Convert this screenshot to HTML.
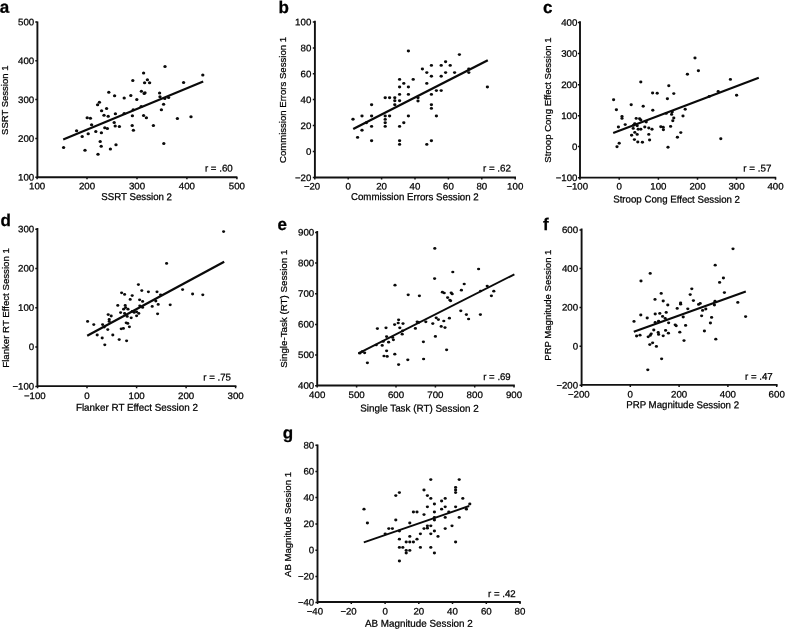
<!DOCTYPE html>
<html lang="en">
<head>
<meta charset="utf-8">
<title>Test-retest reliability scatter plots</title>
<style>
html,body{margin:0;padding:0;background:#fff;}
body{width:785px;height:629px;overflow:hidden;}
svg{display:block;}
text{font-family:"Liberation Sans",Arial,Helvetica,sans-serif;fill:#000;stroke:#000;stroke-width:0.25px;}
.tk{font-size:9.4px;}
.tt{font-size:9.9px;}
.rr{font-size:9.7px;}
.lt{font-size:17.0px;font-weight:bold;fill:#000;}
.ax{stroke:#111;stroke-width:1.9;fill:none;stroke-linecap:butt;}
.rl{stroke:#0a0a0a;fill:none;stroke-linecap:butt;}
.d ellipse{fill:#0a0a0a;}
</style>
</head>
<body>
<svg width="785" height="629" viewBox="0 0 785 629">
<g id="panel-a">
<text class="lt" x="-0.3" y="12.8" transform="rotate(0.03 -0.3 12.8)">a</text>
<path class="ax" d="M37.4 21.4V177.2H237.4"/>
<path class="ax" style="stroke-width:1.5" d="M37.1 177.2v2.1M87 177.2v2.1M137 177.2v2.1M186.9 177.2v2.1M236.9 177.2v2.1M37.4 177.2h-2.1M37.4 138.4h-2.1M37.4 99.6h-2.1M37.4 60.8h-2.1M37.4 22h-2.1"/>
<text class="tk" x="29" y="189.2" textLength="16.2" lengthAdjust="spacingAndGlyphs" transform="rotate(0.03 29 189.2)">100</text>
<text class="tk" x="78.9" y="189.2" textLength="16.2" lengthAdjust="spacingAndGlyphs" transform="rotate(0.03 78.9 189.2)">200</text>
<text class="tk" x="128.9" y="189.2" textLength="16.2" lengthAdjust="spacingAndGlyphs" transform="rotate(0.03 128.9 189.2)">300</text>
<text class="tk" x="178.8" y="189.2" textLength="16.2" lengthAdjust="spacingAndGlyphs" transform="rotate(0.03 178.8 189.2)">400</text>
<text class="tk" x="228.8" y="189.2" textLength="16.2" lengthAdjust="spacingAndGlyphs" transform="rotate(0.03 228.8 189.2)">500</text>
<text class="tk" x="18" y="180.5" textLength="16.2" lengthAdjust="spacingAndGlyphs" transform="rotate(0.03 18 180.5)">100</text>
<text class="tk" x="18" y="141.7" textLength="16.2" lengthAdjust="spacingAndGlyphs" transform="rotate(0.03 18 141.7)">200</text>
<text class="tk" x="18" y="102.9" textLength="16.2" lengthAdjust="spacingAndGlyphs" transform="rotate(0.03 18 102.9)">300</text>
<text class="tk" x="18" y="64.1" textLength="16.2" lengthAdjust="spacingAndGlyphs" transform="rotate(0.03 18 64.1)">400</text>
<text class="tk" x="18" y="25.3" textLength="16.2" lengthAdjust="spacingAndGlyphs" transform="rotate(0.03 18 25.3)">500</text>
<text class="tt" x="101.28" y="200.10" textLength="70.72" lengthAdjust="spacingAndGlyphs" transform="rotate(0.03 101.28 200.10)">SSRT Session 2</text>
<text class="tt" transform="translate(8.05 134.90) rotate(-90)" textLength="69.34" lengthAdjust="spacingAndGlyphs">SSRT Session 1</text>
<text class="rr" x="204.92" y="171.40" textLength="27.80" lengthAdjust="spacingAndGlyphs" transform="rotate(0.03 204.92 171.40)">r = .60</text>
<g class="d"><ellipse cx="63.6" cy="147.4" rx="1.65" ry="1.5"/><ellipse cx="85" cy="150.2" rx="1.65" ry="1.5"/><ellipse cx="98" cy="154.2" rx="1.65" ry="1.5"/><ellipse cx="110.4" cy="149" rx="1.65" ry="1.5"/><ellipse cx="116" cy="144.8" rx="1.65" ry="1.5"/><ellipse cx="101.2" cy="146.2" rx="1.65" ry="1.5"/><ellipse cx="100.2" cy="141.6" rx="1.65" ry="1.5"/><ellipse cx="82.2" cy="136.4" rx="1.65" ry="1.5"/><ellipse cx="88.2" cy="133.8" rx="1.65" ry="1.5"/><ellipse cx="76.6" cy="130.8" rx="1.65" ry="1.5"/><ellipse cx="95.8" cy="131.4" rx="1.65" ry="1.5"/><ellipse cx="101.4" cy="132.8" rx="1.65" ry="1.5"/><ellipse cx="91.6" cy="124.8" rx="1.65" ry="1.5"/><ellipse cx="104.8" cy="127.8" rx="1.65" ry="1.5"/><ellipse cx="107.4" cy="128.4" rx="1.65" ry="1.5"/><ellipse cx="87.2" cy="117.8" rx="1.65" ry="1.5"/><ellipse cx="90.4" cy="118.2" rx="1.65" ry="1.5"/><ellipse cx="104" cy="115.2" rx="1.65" ry="1.5"/><ellipse cx="108.2" cy="116.2" rx="1.65" ry="1.5"/><ellipse cx="101.6" cy="110.8" rx="1.65" ry="1.5"/><ellipse cx="106.6" cy="108.6" rx="1.65" ry="1.5"/><ellipse cx="97.6" cy="104.8" rx="1.65" ry="1.5"/><ellipse cx="99.4" cy="102.2" rx="1.65" ry="1.5"/><ellipse cx="108.8" cy="92.2" rx="1.65" ry="1.5"/><ellipse cx="114.6" cy="95.8" rx="1.65" ry="1.5"/><ellipse cx="124.2" cy="98" rx="1.65" ry="1.5"/><ellipse cx="130.8" cy="95.4" rx="1.65" ry="1.5"/><ellipse cx="136.8" cy="99.6" rx="1.65" ry="1.5"/><ellipse cx="132.8" cy="80.6" rx="1.65" ry="1.5"/><ellipse cx="143.6" cy="73" rx="1.65" ry="1.5"/><ellipse cx="147.4" cy="79.8" rx="1.65" ry="1.5"/><ellipse cx="144.6" cy="82.8" rx="1.65" ry="1.5"/><ellipse cx="149.6" cy="82.8" rx="1.65" ry="1.5"/><ellipse cx="141.4" cy="91.2" rx="1.65" ry="1.5"/><ellipse cx="144.2" cy="93.4" rx="1.65" ry="1.5"/><ellipse cx="145" cy="92.8" rx="1.65" ry="1.5"/><ellipse cx="165" cy="66.6" rx="1.65" ry="1.5"/><ellipse cx="202.8" cy="75" rx="1.65" ry="1.5"/><ellipse cx="183.6" cy="82.6" rx="1.65" ry="1.5"/><ellipse cx="159.6" cy="93" rx="1.65" ry="1.5"/><ellipse cx="160" cy="96.8" rx="1.65" ry="1.5"/><ellipse cx="164.8" cy="98.6" rx="1.65" ry="1.5"/><ellipse cx="168.6" cy="97.6" rx="1.65" ry="1.5"/><ellipse cx="163.6" cy="104.2" rx="1.65" ry="1.5"/><ellipse cx="161.4" cy="109.8" rx="1.65" ry="1.5"/><ellipse cx="141.2" cy="106.6" rx="1.65" ry="1.5"/><ellipse cx="133.2" cy="109.8" rx="1.65" ry="1.5"/><ellipse cx="124.2" cy="113.4" rx="1.65" ry="1.5"/><ellipse cx="115.4" cy="113.8" rx="1.65" ry="1.5"/><ellipse cx="132.4" cy="115.8" rx="1.65" ry="1.5"/><ellipse cx="143.6" cy="115.4" rx="1.65" ry="1.5"/><ellipse cx="146.4" cy="117.8" rx="1.65" ry="1.5"/><ellipse cx="114.2" cy="122.6" rx="1.65" ry="1.5"/><ellipse cx="115.2" cy="126" rx="1.65" ry="1.5"/><ellipse cx="119.4" cy="126.6" rx="1.65" ry="1.5"/><ellipse cx="132.2" cy="125.4" rx="1.65" ry="1.5"/><ellipse cx="133.4" cy="130.2" rx="1.65" ry="1.5"/><ellipse cx="153.4" cy="125.6" rx="1.65" ry="1.5"/><ellipse cx="177.4" cy="118.4" rx="1.65" ry="1.5"/><ellipse cx="191" cy="116.8" rx="1.65" ry="1.5"/><ellipse cx="163.8" cy="143.6" rx="1.65" ry="1.5"/></g>
<line class="rl" stroke-width="2.15" x1="63.2" y1="139.6" x2="203.2" y2="81.4"/>
</g>
<g id="panel-b">
<text class="lt" x="278.6" y="13" transform="rotate(0.03 278.6 13)">b</text>
<path class="ax" d="M314.9 20.8V177.5H516"/>
<path class="ax" style="stroke-width:1.5" d="M314.8 177.5v2.1M348.2 177.5v2.1M381.6 177.5v2.1M415 177.5v2.1M448.4 177.5v2.1M481.8 177.5v2.1M515.2 177.5v2.1M314.9 177.6h-2.1M314.9 151.4h-2.1M314.9 125.5h-2.1M314.9 99.6h-2.1M314.9 73.8h-2.1M314.9 47.9h-2.1M314.9 21.9h-2.1"/>
<text class="tk" x="303.9" y="189.4" textLength="16.3" lengthAdjust="spacingAndGlyphs" transform="rotate(0.03 303.9 189.4)">−20</text>
<text class="tk" x="345.5" y="189.4" textLength="5.4" lengthAdjust="spacingAndGlyphs" transform="rotate(0.03 345.5 189.4)">0</text>
<text class="tk" x="376.2" y="189.4" textLength="10.8" lengthAdjust="spacingAndGlyphs" transform="rotate(0.03 376.2 189.4)">20</text>
<text class="tk" x="409.6" y="189.4" textLength="10.8" lengthAdjust="spacingAndGlyphs" transform="rotate(0.03 409.6 189.4)">40</text>
<text class="tk" x="443" y="189.4" textLength="10.8" lengthAdjust="spacingAndGlyphs" transform="rotate(0.03 443 189.4)">60</text>
<text class="tk" x="476.4" y="189.4" textLength="10.8" lengthAdjust="spacingAndGlyphs" transform="rotate(0.03 476.4 189.4)">80</text>
<text class="tk" x="507.1" y="189.4" textLength="16.2" lengthAdjust="spacingAndGlyphs" transform="rotate(0.03 507.1 189.4)">100</text>
<text class="tk" x="295" y="181" textLength="16.3" lengthAdjust="spacingAndGlyphs" transform="rotate(0.03 295 181)">−20</text>
<text class="tk" x="305.9" y="154.8" textLength="5.4" lengthAdjust="spacingAndGlyphs" transform="rotate(0.03 305.9 154.8)">0</text>
<text class="tk" x="300.5" y="128.9" textLength="10.8" lengthAdjust="spacingAndGlyphs" transform="rotate(0.03 300.5 128.9)">20</text>
<text class="tk" x="300.5" y="103" textLength="10.8" lengthAdjust="spacingAndGlyphs" transform="rotate(0.03 300.5 103)">40</text>
<text class="tk" x="300.5" y="77.2" textLength="10.8" lengthAdjust="spacingAndGlyphs" transform="rotate(0.03 300.5 77.2)">60</text>
<text class="tk" x="300.5" y="51.3" textLength="10.8" lengthAdjust="spacingAndGlyphs" transform="rotate(0.03 300.5 51.3)">80</text>
<text class="tk" x="295.1" y="25.3" textLength="16.2" lengthAdjust="spacingAndGlyphs" transform="rotate(0.03 295.1 25.3)">100</text>
<text class="tt" x="350.92" y="200.10" textLength="127.80" lengthAdjust="spacingAndGlyphs" transform="rotate(0.03 350.92 200.10)">Commission Errors Session 2</text>
<text class="tt" transform="translate(286.20 163.00) rotate(-90)" textLength="126.00" lengthAdjust="spacingAndGlyphs">Commission Errors Session 1</text>
<text class="rr" x="482.92" y="171.60" textLength="28.08" lengthAdjust="spacingAndGlyphs" transform="rotate(0.03 482.92 171.60)">r = .62</text>
<g class="d"><ellipse cx="353" cy="119.2" rx="1.65" ry="1.45"/><ellipse cx="362" cy="116" rx="1.65" ry="1.45"/><ellipse cx="357.6" cy="137.4" rx="1.65" ry="1.45"/><ellipse cx="362" cy="130.2" rx="1.65" ry="1.45"/><ellipse cx="366.4" cy="122.8" rx="1.65" ry="1.45"/><ellipse cx="371.6" cy="104.8" rx="1.65" ry="1.45"/><ellipse cx="371.6" cy="116" rx="1.65" ry="1.45"/><ellipse cx="371.6" cy="126.4" rx="1.65" ry="1.45"/><ellipse cx="371.6" cy="140.8" rx="1.65" ry="1.45"/><ellipse cx="385.2" cy="97.8" rx="1.65" ry="1.45"/><ellipse cx="389.6" cy="97.8" rx="1.65" ry="1.45"/><ellipse cx="394.8" cy="97.8" rx="1.65" ry="1.45"/><ellipse cx="394.8" cy="100.8" rx="1.65" ry="1.45"/><ellipse cx="399.6" cy="100.8" rx="1.65" ry="1.45"/><ellipse cx="394.8" cy="104.8" rx="1.65" ry="1.45"/><ellipse cx="385.2" cy="116" rx="1.65" ry="1.45"/><ellipse cx="389.6" cy="116" rx="1.65" ry="1.45"/><ellipse cx="385.2" cy="119.4" rx="1.65" ry="1.45"/><ellipse cx="385.2" cy="122.8" rx="1.65" ry="1.45"/><ellipse cx="385.2" cy="126.4" rx="1.65" ry="1.45"/><ellipse cx="399.6" cy="126.4" rx="1.65" ry="1.45"/><ellipse cx="403.8" cy="122.8" rx="1.65" ry="1.45"/><ellipse cx="408.4" cy="116" rx="1.65" ry="1.45"/><ellipse cx="399.6" cy="140.8" rx="1.65" ry="1.45"/><ellipse cx="399.6" cy="144.4" rx="1.65" ry="1.45"/><ellipse cx="426.8" cy="144.4" rx="1.65" ry="1.45"/><ellipse cx="431.4" cy="140.8" rx="1.65" ry="1.45"/><ellipse cx="399.6" cy="79.4" rx="1.65" ry="1.45"/><ellipse cx="403.8" cy="83.4" rx="1.65" ry="1.45"/><ellipse cx="399.6" cy="87" rx="1.65" ry="1.45"/><ellipse cx="408.4" cy="87" rx="1.65" ry="1.45"/><ellipse cx="399.6" cy="94.4" rx="1.65" ry="1.45"/><ellipse cx="408.4" cy="94.4" rx="1.65" ry="1.45"/><ellipse cx="413.2" cy="79.4" rx="1.65" ry="1.45"/><ellipse cx="408.4" cy="51" rx="1.65" ry="1.45"/><ellipse cx="422.4" cy="69" rx="1.65" ry="1.45"/><ellipse cx="426.8" cy="72.6" rx="1.65" ry="1.45"/><ellipse cx="431.4" cy="65.4" rx="1.65" ry="1.45"/><ellipse cx="431.4" cy="76.2" rx="1.65" ry="1.45"/><ellipse cx="426.8" cy="83.4" rx="1.65" ry="1.45"/><ellipse cx="441.2" cy="65.4" rx="1.65" ry="1.45"/><ellipse cx="445.6" cy="61.8" rx="1.65" ry="1.45"/><ellipse cx="450.2" cy="65.4" rx="1.65" ry="1.45"/><ellipse cx="445.6" cy="72.6" rx="1.65" ry="1.45"/><ellipse cx="441.2" cy="76.2" rx="1.65" ry="1.45"/><ellipse cx="454.6" cy="72.6" rx="1.65" ry="1.45"/><ellipse cx="459.4" cy="54.6" rx="1.65" ry="1.45"/><ellipse cx="468.8" cy="69" rx="1.65" ry="1.45"/><ellipse cx="468.8" cy="72.6" rx="1.65" ry="1.45"/><ellipse cx="487.4" cy="87" rx="1.65" ry="1.45"/><ellipse cx="436.4" cy="90.6" rx="1.65" ry="1.45"/><ellipse cx="441.2" cy="90.6" rx="1.65" ry="1.45"/><ellipse cx="431.4" cy="94.4" rx="1.65" ry="1.45"/><ellipse cx="418" cy="97.8" rx="1.65" ry="1.45"/><ellipse cx="418" cy="101" rx="1.65" ry="1.45"/><ellipse cx="431.4" cy="104.8" rx="1.65" ry="1.45"/><ellipse cx="431.4" cy="108.4" rx="1.65" ry="1.45"/><ellipse cx="436.4" cy="116" rx="1.65" ry="1.45"/></g>
<line class="rl" stroke-width="2.35" x1="353.2" y1="129" x2="487.8" y2="60.2"/>
</g>
<g id="panel-c">
<text class="lt" x="543" y="13" transform="rotate(0.03 543 13)">c</text>
<path class="ax" d="M580 21.2V177.6H776.2"/>
<path class="ax" style="stroke-width:1.5" d="M580 177.6v2.1M619.2 177.6v2.1M658.4 177.6v2.1M697.5 177.6v2.1M736.5 177.6v2.1M775.5 177.6v2.1M580 177.7h-2.1M580 146.6h-2.1M580 115.7h-2.1M580 84.7h-2.1M580 53.5h-2.1M580 22.4h-2.1"/>
<text class="tk" x="566.4" y="189.4" textLength="21.7" lengthAdjust="spacingAndGlyphs" transform="rotate(0.03 566.4 189.4)">−100</text>
<text class="tk" x="616.5" y="189.4" textLength="5.4" lengthAdjust="spacingAndGlyphs" transform="rotate(0.03 616.5 189.4)">0</text>
<text class="tk" x="650.3" y="189.4" textLength="16.2" lengthAdjust="spacingAndGlyphs" transform="rotate(0.03 650.3 189.4)">100</text>
<text class="tk" x="689.4" y="189.4" textLength="16.2" lengthAdjust="spacingAndGlyphs" transform="rotate(0.03 689.4 189.4)">200</text>
<text class="tk" x="728.4" y="189.4" textLength="16.2" lengthAdjust="spacingAndGlyphs" transform="rotate(0.03 728.4 189.4)">300</text>
<text class="tk" x="767.4" y="189.4" textLength="16.2" lengthAdjust="spacingAndGlyphs" transform="rotate(0.03 767.4 189.4)">400</text>
<text class="tk" x="555.7" y="181" textLength="21.7" lengthAdjust="spacingAndGlyphs" transform="rotate(0.03 555.7 181)">−100</text>
<text class="tk" x="572" y="149.9" textLength="5.4" lengthAdjust="spacingAndGlyphs" transform="rotate(0.03 572 149.9)">0</text>
<text class="tk" x="561.2" y="119" textLength="16.2" lengthAdjust="spacingAndGlyphs" transform="rotate(0.03 561.2 119)">100</text>
<text class="tk" x="561.2" y="88" textLength="16.2" lengthAdjust="spacingAndGlyphs" transform="rotate(0.03 561.2 88)">200</text>
<text class="tk" x="561.2" y="56.8" textLength="16.2" lengthAdjust="spacingAndGlyphs" transform="rotate(0.03 561.2 56.8)">300</text>
<text class="tk" x="561.2" y="25.7" textLength="16.2" lengthAdjust="spacingAndGlyphs" transform="rotate(0.03 561.2 25.7)">400</text>
<text class="tt" x="613.20" y="202.60" textLength="126.80" lengthAdjust="spacingAndGlyphs" transform="rotate(0.03 613.20 202.60)">Stroop Cong Effect Session 2</text>
<text class="tt" transform="translate(551.20 162.72) rotate(-90)" textLength="125.34" lengthAdjust="spacingAndGlyphs">Stroop Cong Effect Session 1</text>
<text class="rr" x="743.28" y="171.60" textLength="28.08" lengthAdjust="spacingAndGlyphs" transform="rotate(0.03 743.28 171.60)">r = .57</text>
<g class="d"><ellipse cx="613.6" cy="99.8" rx="1.6" ry="1.45"/><ellipse cx="616.4" cy="109.8" rx="1.6" ry="1.45"/><ellipse cx="622" cy="116.4" rx="1.6" ry="1.45"/><ellipse cx="622" cy="118.4" rx="1.6" ry="1.45"/><ellipse cx="618.4" cy="127" rx="1.6" ry="1.45"/><ellipse cx="625.2" cy="124.6" rx="1.6" ry="1.45"/><ellipse cx="619.2" cy="143.2" rx="1.6" ry="1.45"/><ellipse cx="617" cy="146.8" rx="1.6" ry="1.45"/><ellipse cx="631.2" cy="104.8" rx="1.6" ry="1.45"/><ellipse cx="640.8" cy="82" rx="1.6" ry="1.45"/><ellipse cx="643.2" cy="106.2" rx="1.6" ry="1.45"/><ellipse cx="652.6" cy="93" rx="1.6" ry="1.45"/><ellipse cx="657.2" cy="93.2" rx="1.6" ry="1.45"/><ellipse cx="652.8" cy="110.2" rx="1.6" ry="1.45"/><ellipse cx="668.8" cy="85.8" rx="1.6" ry="1.45"/><ellipse cx="673.8" cy="93.6" rx="1.6" ry="1.45"/><ellipse cx="667.4" cy="98.8" rx="1.6" ry="1.45"/><ellipse cx="687.4" cy="74.2" rx="1.6" ry="1.45"/><ellipse cx="695" cy="58" rx="1.6" ry="1.45"/><ellipse cx="698.4" cy="70.8" rx="1.6" ry="1.45"/><ellipse cx="730.4" cy="79.4" rx="1.6" ry="1.45"/><ellipse cx="736.6" cy="95.2" rx="1.6" ry="1.45"/><ellipse cx="718.2" cy="91.4" rx="1.6" ry="1.45"/><ellipse cx="709.2" cy="96.4" rx="1.6" ry="1.45"/><ellipse cx="720.8" cy="138.8" rx="1.6" ry="1.45"/><ellipse cx="685.2" cy="109.2" rx="1.6" ry="1.45"/><ellipse cx="683" cy="116" rx="1.6" ry="1.45"/><ellipse cx="672.2" cy="112" rx="1.6" ry="1.45"/><ellipse cx="671.6" cy="114.4" rx="1.6" ry="1.45"/><ellipse cx="673.8" cy="118" rx="1.6" ry="1.45"/><ellipse cx="672.8" cy="120.8" rx="1.6" ry="1.45"/><ellipse cx="670.6" cy="126.4" rx="1.6" ry="1.45"/><ellipse cx="680.8" cy="132.6" rx="1.6" ry="1.45"/><ellipse cx="677.4" cy="137.2" rx="1.6" ry="1.45"/><ellipse cx="668" cy="147.2" rx="1.6" ry="1.45"/><ellipse cx="636.2" cy="118.4" rx="1.6" ry="1.45"/><ellipse cx="639.6" cy="118.8" rx="1.6" ry="1.45"/><ellipse cx="640.8" cy="120" rx="1.6" ry="1.45"/><ellipse cx="646.2" cy="122" rx="1.6" ry="1.45"/><ellipse cx="634.8" cy="123.6" rx="1.6" ry="1.45"/><ellipse cx="633.6" cy="125.2" rx="1.6" ry="1.45"/><ellipse cx="637.2" cy="125.8" rx="1.6" ry="1.45"/><ellipse cx="633.2" cy="128.4" rx="1.6" ry="1.45"/><ellipse cx="638.2" cy="129.2" rx="1.6" ry="1.45"/><ellipse cx="640.8" cy="129.2" rx="1.6" ry="1.45"/><ellipse cx="644.8" cy="127" rx="1.6" ry="1.45"/><ellipse cx="648.8" cy="128" rx="1.6" ry="1.45"/><ellipse cx="652" cy="129.2" rx="1.6" ry="1.45"/><ellipse cx="634.8" cy="132.4" rx="1.6" ry="1.45"/><ellipse cx="631.6" cy="135.2" rx="1.6" ry="1.45"/><ellipse cx="637.2" cy="134.4" rx="1.6" ry="1.45"/><ellipse cx="634.4" cy="139.6" rx="1.6" ry="1.45"/><ellipse cx="637.8" cy="142" rx="1.6" ry="1.45"/><ellipse cx="642.4" cy="142.2" rx="1.6" ry="1.45"/><ellipse cx="648.8" cy="134.4" rx="1.6" ry="1.45"/><ellipse cx="649.6" cy="140" rx="1.6" ry="1.45"/><ellipse cx="660.8" cy="126.8" rx="1.6" ry="1.45"/><ellipse cx="663.2" cy="127.2" rx="1.6" ry="1.45"/><ellipse cx="663.4" cy="129.8" rx="1.6" ry="1.45"/><ellipse cx="666.2" cy="113.4" rx="1.6" ry="1.45"/></g>
<line class="rl" stroke-width="2.1" x1="613.2" y1="133" x2="758.8" y2="77.8"/>
</g>
<g id="panel-d">
<text class="lt" x="0.5" y="226.1" transform="rotate(0.03 0.5 226.1)">d</text>
<path class="ax" d="M37.4 228V386.1H236.4"/>
<path class="ax" style="stroke-width:1.5" d="M37.6 386.1v2.1M87 386.1v2.1M136.6 386.1v2.1M186.1 386.1v2.1M235.6 386.1v2.1M37.4 386.4h-2.1M37.4 347h-2.1M37.4 307.7h-2.1M37.4 268.4h-2.1M37.4 229.2h-2.1"/>
<text class="tk" x="24" y="399" textLength="21.7" lengthAdjust="spacingAndGlyphs" transform="rotate(0.03 24 399)">−100</text>
<text class="tk" x="84.3" y="399" textLength="5.4" lengthAdjust="spacingAndGlyphs" transform="rotate(0.03 84.3 399)">0</text>
<text class="tk" x="128.5" y="399" textLength="16.2" lengthAdjust="spacingAndGlyphs" transform="rotate(0.03 128.5 399)">100</text>
<text class="tk" x="178" y="399" textLength="16.2" lengthAdjust="spacingAndGlyphs" transform="rotate(0.03 178 399)">200</text>
<text class="tk" x="227.5" y="399" textLength="16.2" lengthAdjust="spacingAndGlyphs" transform="rotate(0.03 227.5 399)">300</text>
<text class="tk" x="12.5" y="389.5" textLength="21.7" lengthAdjust="spacingAndGlyphs" transform="rotate(0.03 12.5 389.5)">−100</text>
<text class="tk" x="28.8" y="350.1" textLength="5.4" lengthAdjust="spacingAndGlyphs" transform="rotate(0.03 28.8 350.1)">0</text>
<text class="tk" x="18" y="310.8" textLength="16.2" lengthAdjust="spacingAndGlyphs" transform="rotate(0.03 18 310.8)">100</text>
<text class="tk" x="18" y="271.5" textLength="16.2" lengthAdjust="spacingAndGlyphs" transform="rotate(0.03 18 271.5)">200</text>
<text class="tk" x="18" y="232.3" textLength="16.2" lengthAdjust="spacingAndGlyphs" transform="rotate(0.03 18 232.3)">300</text>
<text class="tt" x="75.92" y="410.70" textLength="122.08" lengthAdjust="spacingAndGlyphs" transform="rotate(0.03 75.92 410.70)">Flanker RT Effect Session 2</text>
<text class="tt" transform="translate(8.50 367.72) rotate(-90)" textLength="119.54" lengthAdjust="spacingAndGlyphs">Flanker RT Effect Session 1</text>
<text class="rr" x="203.28" y="380.40" textLength="27.72" lengthAdjust="spacingAndGlyphs" transform="rotate(0.03 203.28 380.40)">r = .75</text>
<g class="d"><ellipse cx="223.6" cy="231.6" rx="1.55" ry="1.4"/><ellipse cx="166.6" cy="263.4" rx="1.55" ry="1.4"/><ellipse cx="182.6" cy="289.6" rx="1.55" ry="1.4"/><ellipse cx="192.6" cy="294" rx="1.55" ry="1.4"/><ellipse cx="202.8" cy="294.8" rx="1.55" ry="1.4"/><ellipse cx="170.2" cy="304.8" rx="1.55" ry="1.4"/><ellipse cx="138.4" cy="284.6" rx="1.55" ry="1.4"/><ellipse cx="141.8" cy="290.6" rx="1.55" ry="1.4"/><ellipse cx="148.4" cy="291.8" rx="1.55" ry="1.4"/><ellipse cx="157" cy="291.8" rx="1.55" ry="1.4"/><ellipse cx="160.6" cy="294.8" rx="1.55" ry="1.4"/><ellipse cx="121.6" cy="292.8" rx="1.55" ry="1.4"/><ellipse cx="124.6" cy="294.4" rx="1.55" ry="1.4"/><ellipse cx="132.2" cy="295.6" rx="1.55" ry="1.4"/><ellipse cx="130.2" cy="299.4" rx="1.55" ry="1.4"/><ellipse cx="139.6" cy="299.8" rx="1.55" ry="1.4"/><ellipse cx="142.6" cy="301.4" rx="1.55" ry="1.4"/><ellipse cx="155.8" cy="301" rx="1.55" ry="1.4"/><ellipse cx="158.2" cy="304.4" rx="1.55" ry="1.4"/><ellipse cx="152.2" cy="306.4" rx="1.55" ry="1.4"/><ellipse cx="157.6" cy="313.8" rx="1.55" ry="1.4"/><ellipse cx="117.8" cy="305.4" rx="1.55" ry="1.4"/><ellipse cx="125.2" cy="305.4" rx="1.55" ry="1.4"/><ellipse cx="123.6" cy="309.2" rx="1.55" ry="1.4"/><ellipse cx="125.6" cy="307.6" rx="1.55" ry="1.4"/><ellipse cx="128" cy="309.2" rx="1.55" ry="1.4"/><ellipse cx="139.8" cy="305.8" rx="1.55" ry="1.4"/><ellipse cx="142.6" cy="307.4" rx="1.55" ry="1.4"/><ellipse cx="120.6" cy="312.6" rx="1.55" ry="1.4"/><ellipse cx="124.6" cy="313.4" rx="1.55" ry="1.4"/><ellipse cx="127.2" cy="316.4" rx="1.55" ry="1.4"/><ellipse cx="131.2" cy="317.8" rx="1.55" ry="1.4"/><ellipse cx="132.2" cy="311.4" rx="1.55" ry="1.4"/><ellipse cx="134.2" cy="312.4" rx="1.55" ry="1.4"/><ellipse cx="136.6" cy="311.8" rx="1.55" ry="1.4"/><ellipse cx="138.8" cy="313.4" rx="1.55" ry="1.4"/><ellipse cx="136.6" cy="315.8" rx="1.55" ry="1.4"/><ellipse cx="108.2" cy="314.6" rx="1.55" ry="1.4"/><ellipse cx="111.2" cy="316" rx="1.55" ry="1.4"/><ellipse cx="109.2" cy="319.4" rx="1.55" ry="1.4"/><ellipse cx="109.2" cy="321.4" rx="1.55" ry="1.4"/><ellipse cx="87.6" cy="321.4" rx="1.55" ry="1.4"/><ellipse cx="93.8" cy="324.6" rx="1.55" ry="1.4"/><ellipse cx="102.6" cy="324.6" rx="1.55" ry="1.4"/><ellipse cx="107.8" cy="329.6" rx="1.55" ry="1.4"/><ellipse cx="97.2" cy="335" rx="1.55" ry="1.4"/><ellipse cx="102.2" cy="338" rx="1.55" ry="1.4"/><ellipse cx="104.8" cy="344.8" rx="1.55" ry="1.4"/><ellipse cx="112.8" cy="335" rx="1.55" ry="1.4"/><ellipse cx="119.2" cy="339.6" rx="1.55" ry="1.4"/><ellipse cx="126.6" cy="340.8" rx="1.55" ry="1.4"/><ellipse cx="121.2" cy="328.8" rx="1.55" ry="1.4"/><ellipse cx="123.4" cy="328.4" rx="1.55" ry="1.4"/><ellipse cx="129.4" cy="326.8" rx="1.55" ry="1.4"/><ellipse cx="126.2" cy="322.8" rx="1.55" ry="1.4"/><ellipse cx="127.8" cy="323.4" rx="1.55" ry="1.4"/><ellipse cx="104.2" cy="327" rx="1.55" ry="1.4"/></g>
<line class="rl" stroke-width="2.25" x1="87.2" y1="335.8" x2="224.2" y2="261.8"/>
</g>
<g id="panel-e">
<text class="lt" x="277.5" y="229.9" transform="rotate(0.03 277.5 229.9)">e</text>
<path class="ax" d="M317.2 231V385.5H514.8"/>
<path class="ax" style="stroke-width:1.5" d="M317.2 385.5v2.1M356.6 385.5v2.1M396 385.5v2.1M435.4 385.5v2.1M474.7 385.5v2.1M514 385.5v2.1M317.2 385.7h-2.1M317.2 355h-2.1M317.2 324.4h-2.1M317.2 293.7h-2.1M317.2 263.1h-2.1M317.2 232.4h-2.1"/>
<text class="tk" x="309.1" y="398" textLength="16.2" lengthAdjust="spacingAndGlyphs" transform="rotate(0.03 309.1 398)">400</text>
<text class="tk" x="348.5" y="398" textLength="16.2" lengthAdjust="spacingAndGlyphs" transform="rotate(0.03 348.5 398)">500</text>
<text class="tk" x="387.9" y="398" textLength="16.2" lengthAdjust="spacingAndGlyphs" transform="rotate(0.03 387.9 398)">600</text>
<text class="tk" x="427.3" y="398" textLength="16.2" lengthAdjust="spacingAndGlyphs" transform="rotate(0.03 427.3 398)">700</text>
<text class="tk" x="466.6" y="398" textLength="16.2" lengthAdjust="spacingAndGlyphs" transform="rotate(0.03 466.6 398)">800</text>
<text class="tk" x="505.9" y="398" textLength="16.2" lengthAdjust="spacingAndGlyphs" transform="rotate(0.03 505.9 398)">900</text>
<text class="tk" x="298" y="388.8" textLength="16.2" lengthAdjust="spacingAndGlyphs" transform="rotate(0.03 298 388.8)">400</text>
<text class="tk" x="298" y="358.1" textLength="16.2" lengthAdjust="spacingAndGlyphs" transform="rotate(0.03 298 358.1)">500</text>
<text class="tk" x="298" y="327.5" textLength="16.2" lengthAdjust="spacingAndGlyphs" transform="rotate(0.03 298 327.5)">600</text>
<text class="tk" x="298" y="296.8" textLength="16.2" lengthAdjust="spacingAndGlyphs" transform="rotate(0.03 298 296.8)">700</text>
<text class="tk" x="298" y="266.2" textLength="16.2" lengthAdjust="spacingAndGlyphs" transform="rotate(0.03 298 266.2)">800</text>
<text class="tk" x="298" y="235.5" textLength="16.2" lengthAdjust="spacingAndGlyphs" transform="rotate(0.03 298 235.5)">900</text>
<text class="tt" x="360.28" y="411.60" textLength="118.44" lengthAdjust="spacingAndGlyphs" transform="rotate(0.03 360.28 411.60)">Single Task (RT) Session 2</text>
<text class="tt" transform="translate(287.40 367.72) rotate(-90)" textLength="118.08" lengthAdjust="spacingAndGlyphs">Single-Task (RT) Session 1</text>
<text class="rr" x="483.28" y="380.00" textLength="27.44" lengthAdjust="spacingAndGlyphs" transform="rotate(0.03 483.28 380.00)">r = .69</text>
<g class="d"><ellipse cx="434.8" cy="248.4" rx="1.6" ry="1.35"/><ellipse cx="434.6" cy="278.6" rx="1.6" ry="1.35"/><ellipse cx="452.8" cy="272" rx="1.6" ry="1.35"/><ellipse cx="478.6" cy="269" rx="1.6" ry="1.35"/><ellipse cx="464.2" cy="284" rx="1.6" ry="1.35"/><ellipse cx="461.4" cy="290.2" rx="1.6" ry="1.35"/><ellipse cx="487.2" cy="286" rx="1.6" ry="1.35"/><ellipse cx="493.8" cy="291.2" rx="1.6" ry="1.35"/><ellipse cx="491.4" cy="295.8" rx="1.6" ry="1.35"/><ellipse cx="480.6" cy="291" rx="1.6" ry="1.35"/><ellipse cx="395" cy="285.2" rx="1.6" ry="1.35"/><ellipse cx="408.2" cy="294.8" rx="1.6" ry="1.35"/><ellipse cx="419.4" cy="295.8" rx="1.6" ry="1.35"/><ellipse cx="442.4" cy="292.2" rx="1.6" ry="1.35"/><ellipse cx="444.2" cy="293" rx="1.6" ry="1.35"/><ellipse cx="451.2" cy="292.8" rx="1.6" ry="1.35"/><ellipse cx="452.2" cy="294" rx="1.6" ry="1.35"/><ellipse cx="447.6" cy="297.6" rx="1.6" ry="1.35"/><ellipse cx="449.8" cy="300" rx="1.6" ry="1.35"/><ellipse cx="450.6" cy="300.8" rx="1.6" ry="1.35"/><ellipse cx="460.8" cy="310.8" rx="1.6" ry="1.35"/><ellipse cx="466.4" cy="314.6" rx="1.6" ry="1.35"/><ellipse cx="468.6" cy="319" rx="1.6" ry="1.35"/><ellipse cx="480.4" cy="314.6" rx="1.6" ry="1.35"/><ellipse cx="449.4" cy="318.2" rx="1.6" ry="1.35"/><ellipse cx="436.2" cy="317.8" rx="1.6" ry="1.35"/><ellipse cx="438.4" cy="319.6" rx="1.6" ry="1.35"/><ellipse cx="443.8" cy="321" rx="1.6" ry="1.35"/><ellipse cx="441.2" cy="326.4" rx="1.6" ry="1.35"/><ellipse cx="445" cy="327.6" rx="1.6" ry="1.35"/><ellipse cx="432.8" cy="323.6" rx="1.6" ry="1.35"/><ellipse cx="425.8" cy="321.8" rx="1.6" ry="1.35"/><ellipse cx="417.2" cy="321.8" rx="1.6" ry="1.35"/><ellipse cx="418.6" cy="322.4" rx="1.6" ry="1.35"/><ellipse cx="415.4" cy="328.4" rx="1.6" ry="1.35"/><ellipse cx="398.6" cy="319.8" rx="1.6" ry="1.35"/><ellipse cx="394.6" cy="324.6" rx="1.6" ry="1.35"/><ellipse cx="398.2" cy="323" rx="1.6" ry="1.35"/><ellipse cx="403" cy="323.6" rx="1.6" ry="1.35"/><ellipse cx="399.8" cy="327.8" rx="1.6" ry="1.35"/><ellipse cx="402.6" cy="330.8" rx="1.6" ry="1.35"/><ellipse cx="402.2" cy="334.2" rx="1.6" ry="1.35"/><ellipse cx="377.4" cy="328.6" rx="1.6" ry="1.35"/><ellipse cx="386" cy="327.8" rx="1.6" ry="1.35"/><ellipse cx="386.6" cy="336.6" rx="1.6" ry="1.35"/><ellipse cx="392.6" cy="337.4" rx="1.6" ry="1.35"/><ellipse cx="393.4" cy="339.8" rx="1.6" ry="1.35"/><ellipse cx="388.6" cy="342.2" rx="1.6" ry="1.35"/><ellipse cx="383.2" cy="341.4" rx="1.6" ry="1.35"/><ellipse cx="382.2" cy="345.4" rx="1.6" ry="1.35"/><ellipse cx="376.2" cy="345" rx="1.6" ry="1.35"/><ellipse cx="386.6" cy="350.8" rx="1.6" ry="1.35"/><ellipse cx="394.8" cy="354.2" rx="1.6" ry="1.35"/><ellipse cx="384" cy="356" rx="1.6" ry="1.35"/><ellipse cx="387.2" cy="356.4" rx="1.6" ry="1.35"/><ellipse cx="367.4" cy="362.8" rx="1.6" ry="1.35"/><ellipse cx="398.6" cy="364.6" rx="1.6" ry="1.35"/><ellipse cx="407.8" cy="359.8" rx="1.6" ry="1.35"/><ellipse cx="423.6" cy="359" rx="1.6" ry="1.35"/><ellipse cx="423.4" cy="341.8" rx="1.6" ry="1.35"/><ellipse cx="435.4" cy="336.4" rx="1.6" ry="1.35"/><ellipse cx="446.6" cy="349.8" rx="1.6" ry="1.35"/><ellipse cx="359.8" cy="353.2" rx="1.6" ry="1.35"/><ellipse cx="362.2" cy="351.6" rx="1.6" ry="1.35"/><ellipse cx="364.6" cy="352.8" rx="1.6" ry="1.35"/></g>
<line class="rl" stroke-width="1.95" x1="358.4" y1="353.3" x2="514.4" y2="274.3"/>
</g>
<g id="panel-f">
<text class="lt" x="543" y="230" transform="rotate(0.03 543 230)">f</text>
<path class="ax" d="M581.6 228.6V384.9H777.6"/>
<path class="ax" style="stroke-width:1.5" d="M581.6 384.9v2.1M630.3 384.9v2.1M679.1 384.9v2.1M727.9 384.9v2.1M776.7 384.9v2.1M581.6 385.2h-2.1M581.6 346.3h-2.1M581.6 307.4h-2.1M581.6 268.6h-2.1M581.6 229.9h-2.1"/>
<text class="tk" x="568" y="397.5" textLength="21.7" lengthAdjust="spacingAndGlyphs" transform="rotate(0.03 568 397.5)">−200</text>
<text class="tk" x="627.6" y="397.5" textLength="5.4" lengthAdjust="spacingAndGlyphs" transform="rotate(0.03 627.6 397.5)">0</text>
<text class="tk" x="671" y="397.5" textLength="16.2" lengthAdjust="spacingAndGlyphs" transform="rotate(0.03 671 397.5)">200</text>
<text class="tk" x="719.8" y="397.5" textLength="16.2" lengthAdjust="spacingAndGlyphs" transform="rotate(0.03 719.8 397.5)">400</text>
<text class="tk" x="768.6" y="397.5" textLength="16.2" lengthAdjust="spacingAndGlyphs" transform="rotate(0.03 768.6 397.5)">600</text>
<text class="tk" x="556.4" y="388.4" textLength="21.7" lengthAdjust="spacingAndGlyphs" transform="rotate(0.03 556.4 388.4)">−200</text>
<text class="tk" x="572.7" y="349.5" textLength="5.4" lengthAdjust="spacingAndGlyphs" transform="rotate(0.03 572.7 349.5)">0</text>
<text class="tk" x="561.9" y="310.6" textLength="16.2" lengthAdjust="spacingAndGlyphs" transform="rotate(0.03 561.9 310.6)">200</text>
<text class="tk" x="561.9" y="271.8" textLength="16.2" lengthAdjust="spacingAndGlyphs" transform="rotate(0.03 561.9 271.8)">400</text>
<text class="tk" x="561.9" y="233.1" textLength="16.2" lengthAdjust="spacingAndGlyphs" transform="rotate(0.03 561.9 233.1)">600</text>
<text class="tt" x="626.20" y="408.10" textLength="112.88" lengthAdjust="spacingAndGlyphs" transform="rotate(0.03 626.20 408.10)">PRP Magnitude Session 2</text>
<text class="tt" transform="translate(551.40 360.72) rotate(-90)" textLength="111.16" lengthAdjust="spacingAndGlyphs">PRP Magnitude Session 1</text>
<text class="rr" x="744.98" y="379.70" textLength="27.72" lengthAdjust="spacingAndGlyphs" transform="rotate(0.03 744.98 379.70)">r = .47</text>
<g class="d"><ellipse cx="733" cy="248.8" rx="1.6" ry="1.42"/><ellipse cx="715.2" cy="265.2" rx="1.6" ry="1.42"/><ellipse cx="723.4" cy="278" rx="1.6" ry="1.42"/><ellipse cx="719.6" cy="282.4" rx="1.6" ry="1.42"/><ellipse cx="724.4" cy="292.6" rx="1.6" ry="1.42"/><ellipse cx="737.8" cy="302.4" rx="1.6" ry="1.42"/><ellipse cx="745.6" cy="316.6" rx="1.6" ry="1.42"/><ellipse cx="650.2" cy="273.4" rx="1.6" ry="1.42"/><ellipse cx="641" cy="281" rx="1.6" ry="1.42"/><ellipse cx="661.2" cy="293.4" rx="1.6" ry="1.42"/><ellipse cx="655" cy="299.4" rx="1.6" ry="1.42"/><ellipse cx="663.2" cy="301" rx="1.6" ry="1.42"/><ellipse cx="667.8" cy="305" rx="1.6" ry="1.42"/><ellipse cx="691.8" cy="288.8" rx="1.6" ry="1.42"/><ellipse cx="690.2" cy="294.6" rx="1.6" ry="1.42"/><ellipse cx="693.4" cy="300.6" rx="1.6" ry="1.42"/><ellipse cx="680.6" cy="303" rx="1.6" ry="1.42"/><ellipse cx="680.6" cy="304.2" rx="1.6" ry="1.42"/><ellipse cx="677.2" cy="308.4" rx="1.6" ry="1.42"/><ellipse cx="687.8" cy="308.8" rx="1.6" ry="1.42"/><ellipse cx="698.6" cy="304.4" rx="1.6" ry="1.42"/><ellipse cx="700.2" cy="303.4" rx="1.6" ry="1.42"/><ellipse cx="715" cy="301.2" rx="1.6" ry="1.42"/><ellipse cx="714.4" cy="305" rx="1.6" ry="1.42"/><ellipse cx="705.8" cy="309" rx="1.6" ry="1.42"/><ellipse cx="702.6" cy="310.4" rx="1.6" ry="1.42"/><ellipse cx="701.6" cy="315.8" rx="1.6" ry="1.42"/><ellipse cx="711.6" cy="317.4" rx="1.6" ry="1.42"/><ellipse cx="710.4" cy="323" rx="1.6" ry="1.42"/><ellipse cx="704.4" cy="331" rx="1.6" ry="1.42"/><ellipse cx="715.8" cy="339.2" rx="1.6" ry="1.42"/><ellipse cx="683.2" cy="317" rx="1.6" ry="1.42"/><ellipse cx="685.6" cy="325.4" rx="1.6" ry="1.42"/><ellipse cx="675.2" cy="324.8" rx="1.6" ry="1.42"/><ellipse cx="676.2" cy="325.8" rx="1.6" ry="1.42"/><ellipse cx="679.8" cy="332.2" rx="1.6" ry="1.42"/><ellipse cx="684" cy="340.6" rx="1.6" ry="1.42"/><ellipse cx="668.6" cy="322.8" rx="1.6" ry="1.42"/><ellipse cx="666.2" cy="312.4" rx="1.6" ry="1.42"/><ellipse cx="659.8" cy="313.4" rx="1.6" ry="1.42"/><ellipse cx="655.2" cy="314" rx="1.6" ry="1.42"/><ellipse cx="662.6" cy="316.4" rx="1.6" ry="1.42"/><ellipse cx="665.2" cy="318.4" rx="1.6" ry="1.42"/><ellipse cx="640.8" cy="315" rx="1.6" ry="1.42"/><ellipse cx="647.2" cy="318" rx="1.6" ry="1.42"/><ellipse cx="634" cy="321.4" rx="1.6" ry="1.42"/><ellipse cx="655.2" cy="322.4" rx="1.6" ry="1.42"/><ellipse cx="658.6" cy="321.2" rx="1.6" ry="1.42"/><ellipse cx="653.8" cy="330" rx="1.6" ry="1.42"/><ellipse cx="658.2" cy="332.4" rx="1.6" ry="1.42"/><ellipse cx="658.6" cy="334.4" rx="1.6" ry="1.42"/><ellipse cx="665.6" cy="330.4" rx="1.6" ry="1.42"/><ellipse cx="668.4" cy="333.2" rx="1.6" ry="1.42"/><ellipse cx="663.2" cy="335.8" rx="1.6" ry="1.42"/><ellipse cx="651.2" cy="333.8" rx="1.6" ry="1.42"/><ellipse cx="648.2" cy="336.8" rx="1.6" ry="1.42"/><ellipse cx="650.2" cy="335.4" rx="1.6" ry="1.42"/><ellipse cx="636.6" cy="336" rx="1.6" ry="1.42"/><ellipse cx="640" cy="335.2" rx="1.6" ry="1.42"/><ellipse cx="652.6" cy="342.8" rx="1.6" ry="1.42"/><ellipse cx="649.8" cy="344.6" rx="1.6" ry="1.42"/><ellipse cx="656.4" cy="346.4" rx="1.6" ry="1.42"/><ellipse cx="661.6" cy="358.8" rx="1.6" ry="1.42"/><ellipse cx="647.8" cy="369.8" rx="1.6" ry="1.42"/></g>
<line class="rl" stroke-width="2.1" x1="633.8" y1="331.8" x2="745.8" y2="291.4"/>
</g>
<g id="panel-g">
<text class="lt" x="282.8" y="438.5" transform="rotate(0.03 282.8 438.5)">g</text>
<path class="ax" d="M317.5 444.4V602H520.8"/>
<path class="ax" style="stroke-width:1.5" d="M317.6 602v2.1M351.3 602v2.1M385.1 602v2.1M418.8 602v2.1M452.5 602v2.1M486.3 602v2.1M520 602v2.1M317.5 602.4h-2.1M317.5 576.4h-2.1M317.5 550.2h-2.1M317.5 523.9h-2.1M317.5 497.6h-2.1M317.5 471.5h-2.1M317.5 445.3h-2.1"/>
<text class="tk" x="306.7" y="614.6" textLength="16.3" lengthAdjust="spacingAndGlyphs" transform="rotate(0.03 306.7 614.6)">−40</text>
<text class="tk" x="340.4" y="614.6" textLength="16.3" lengthAdjust="spacingAndGlyphs" transform="rotate(0.03 340.4 614.6)">−20</text>
<text class="tk" x="382.4" y="614.6" textLength="5.4" lengthAdjust="spacingAndGlyphs" transform="rotate(0.03 382.4 614.6)">0</text>
<text class="tk" x="413.4" y="614.6" textLength="10.8" lengthAdjust="spacingAndGlyphs" transform="rotate(0.03 413.4 614.6)">20</text>
<text class="tk" x="447.1" y="614.6" textLength="10.8" lengthAdjust="spacingAndGlyphs" transform="rotate(0.03 447.1 614.6)">40</text>
<text class="tk" x="480.9" y="614.6" textLength="10.8" lengthAdjust="spacingAndGlyphs" transform="rotate(0.03 480.9 614.6)">60</text>
<text class="tk" x="514.6" y="614.6" textLength="10.8" lengthAdjust="spacingAndGlyphs" transform="rotate(0.03 514.6 614.6)">80</text>
<text class="tk" x="297.9" y="605.5" textLength="16.3" lengthAdjust="spacingAndGlyphs" transform="rotate(0.03 297.9 605.5)">−40</text>
<text class="tk" x="297.9" y="579.5" textLength="16.3" lengthAdjust="spacingAndGlyphs" transform="rotate(0.03 297.9 579.5)">−20</text>
<text class="tk" x="308.8" y="553.3" textLength="5.4" lengthAdjust="spacingAndGlyphs" transform="rotate(0.03 308.8 553.3)">0</text>
<text class="tk" x="303.4" y="527" textLength="10.8" lengthAdjust="spacingAndGlyphs" transform="rotate(0.03 303.4 527)">20</text>
<text class="tk" x="303.4" y="500.7" textLength="10.8" lengthAdjust="spacingAndGlyphs" transform="rotate(0.03 303.4 500.7)">40</text>
<text class="tk" x="303.4" y="474.6" textLength="10.8" lengthAdjust="spacingAndGlyphs" transform="rotate(0.03 303.4 474.6)">60</text>
<text class="tk" x="303.4" y="448.4" textLength="10.8" lengthAdjust="spacingAndGlyphs" transform="rotate(0.03 303.4 448.4)">80</text>
<text class="tt" x="364.92" y="626.80" textLength="107.88" lengthAdjust="spacingAndGlyphs" transform="rotate(0.03 364.92 626.80)">AB Magnitude Session 2</text>
<text class="tt" transform="translate(291.40 577.00) rotate(-90)" textLength="105.00" lengthAdjust="spacingAndGlyphs">AB Magnitude Session 1</text>
<text class="rr" x="488.00" y="597.00" textLength="27.72" lengthAdjust="spacingAndGlyphs" transform="rotate(0.03 488.00 597.00)">r = .42</text>
<g class="d"><ellipse cx="364" cy="509.2" rx="1.6" ry="1.38"/><ellipse cx="367.4" cy="523" rx="1.6" ry="1.38"/><ellipse cx="395.8" cy="495.6" rx="1.6" ry="1.38"/><ellipse cx="399.4" cy="492.6" rx="1.6" ry="1.38"/><ellipse cx="395.8" cy="520" rx="1.6" ry="1.38"/><ellipse cx="388.8" cy="528.6" rx="1.6" ry="1.38"/><ellipse cx="392.4" cy="528.6" rx="1.6" ry="1.38"/><ellipse cx="385.2" cy="533.8" rx="1.6" ry="1.38"/><ellipse cx="399.4" cy="531" rx="1.6" ry="1.38"/><ellipse cx="399.4" cy="539.2" rx="1.6" ry="1.38"/><ellipse cx="399.4" cy="547.4" rx="1.6" ry="1.38"/><ellipse cx="402.8" cy="547.4" rx="1.6" ry="1.38"/><ellipse cx="399.4" cy="561" rx="1.6" ry="1.38"/><ellipse cx="406.2" cy="542" rx="1.6" ry="1.38"/><ellipse cx="409.8" cy="542" rx="1.6" ry="1.38"/><ellipse cx="413.4" cy="542" rx="1.6" ry="1.38"/><ellipse cx="409.8" cy="536.4" rx="1.6" ry="1.38"/><ellipse cx="417" cy="539.2" rx="1.6" ry="1.38"/><ellipse cx="406.2" cy="550.4" rx="1.6" ry="1.38"/><ellipse cx="409.8" cy="550.4" rx="1.6" ry="1.38"/><ellipse cx="406.2" cy="553" rx="1.6" ry="1.38"/><ellipse cx="420.4" cy="547.4" rx="1.6" ry="1.38"/><ellipse cx="430.8" cy="547.4" rx="1.6" ry="1.38"/><ellipse cx="434.4" cy="553" rx="1.6" ry="1.38"/><ellipse cx="409.8" cy="523" rx="1.6" ry="1.38"/><ellipse cx="413.4" cy="512" rx="1.6" ry="1.38"/><ellipse cx="417" cy="512" rx="1.6" ry="1.38"/><ellipse cx="420.4" cy="533.8" rx="1.6" ry="1.38"/><ellipse cx="424" cy="514.6" rx="1.6" ry="1.38"/><ellipse cx="424" cy="528.6" rx="1.6" ry="1.38"/><ellipse cx="427.4" cy="525.8" rx="1.6" ry="1.38"/><ellipse cx="430.8" cy="525.8" rx="1.6" ry="1.38"/><ellipse cx="427.4" cy="528.2" rx="1.6" ry="1.38"/><ellipse cx="430.8" cy="533.8" rx="1.6" ry="1.38"/><ellipse cx="434.4" cy="531" rx="1.6" ry="1.38"/><ellipse cx="438" cy="536.4" rx="1.6" ry="1.38"/><ellipse cx="424" cy="490" rx="1.6" ry="1.38"/><ellipse cx="427.4" cy="495.6" rx="1.6" ry="1.38"/><ellipse cx="430.8" cy="479.6" rx="1.6" ry="1.38"/><ellipse cx="430.8" cy="498.4" rx="1.6" ry="1.38"/><ellipse cx="427.4" cy="506.8" rx="1.6" ry="1.38"/><ellipse cx="434.4" cy="504" rx="1.6" ry="1.38"/><ellipse cx="434.4" cy="512" rx="1.6" ry="1.38"/><ellipse cx="434.4" cy="517.4" rx="1.6" ry="1.38"/><ellipse cx="434.4" cy="520" rx="1.6" ry="1.38"/><ellipse cx="441.6" cy="501" rx="1.6" ry="1.38"/><ellipse cx="445.2" cy="498.4" rx="1.6" ry="1.38"/><ellipse cx="441.6" cy="509.2" rx="1.6" ry="1.38"/><ellipse cx="445.2" cy="506.8" rx="1.6" ry="1.38"/><ellipse cx="445.2" cy="517.4" rx="1.6" ry="1.38"/><ellipse cx="445.2" cy="528.6" rx="1.6" ry="1.38"/><ellipse cx="448.8" cy="512" rx="1.6" ry="1.38"/><ellipse cx="452" cy="525.8" rx="1.6" ry="1.38"/><ellipse cx="455.6" cy="487.4" rx="1.6" ry="1.38"/><ellipse cx="455.6" cy="490" rx="1.6" ry="1.38"/><ellipse cx="455.6" cy="492.6" rx="1.6" ry="1.38"/><ellipse cx="455.6" cy="506.8" rx="1.6" ry="1.38"/><ellipse cx="455.6" cy="542" rx="1.6" ry="1.38"/><ellipse cx="459.2" cy="479.6" rx="1.6" ry="1.38"/><ellipse cx="459.2" cy="517.4" rx="1.6" ry="1.38"/><ellipse cx="462.8" cy="498.4" rx="1.6" ry="1.38"/><ellipse cx="466.4" cy="509.2" rx="1.6" ry="1.38"/><ellipse cx="469.8" cy="504" rx="1.6" ry="1.38"/></g>
<line class="rl" stroke-width="1.9" x1="363.8" y1="542.4" x2="469.2" y2="506"/>
</g>
</svg>
</body>
</html>
